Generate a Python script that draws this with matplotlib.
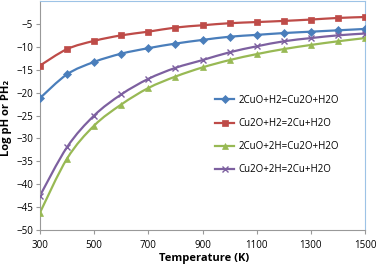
import numpy as np
import matplotlib
matplotlib.use('Agg')
import matplotlib.pyplot as plt
from matplotlib.path import Path
from matplotlib.patches import PathPatch
from matplotlib.lines import Line2D

plt.rcParams['font.family'] = ['Open Sans', 'DejaVu Sans']

# data
temps = [300, 400, 500, 600, 700, 800, 900, 1000, 1100, 1200, 1300, 1400, 1500]
cuo_h2 = [-21.2, -16.0, -13.3, -11.5, -10.3, -9.3, -8.5, -7.8, -7.4, -7.0, -6.7, -6.4, -6.1]
cu2o_h2 = [-14.1, -10.5, -8.7, -7.5, -6.7, -5.8, -5.3, -4.85, -4.6, -4.35, -4.05, -3.7, -3.5]
cuo_2h = [-46.2, -34.4, -27.2, -22.6, -19.0, -16.5, -14.5, -12.9, -11.6, -10.5, -9.6, -8.8, -8.1]
cu2o_2h = [-42.5, -31.9, -25.0, -20.4, -17.0, -14.6, -12.9, -11.2, -9.9, -8.8, -8.1, -7.5, -7.1]

labels = ['2CuO+H2=Cu2O+H2O', 'Cu2O+H2=2Cu+H2O',
          '2CuO+2H=Cu2O+H2O', 'Cu2O+2H=2Cu+H2O']
series = [cuo_h2, cu2o_h2, cuo_2h, cu2o_2h]
colors = ['#4a7ebb', '#be4b48', '#98b954', '#7d60a0']
markers = ['D', 's', '^', 'x']
msizes = [4, 5, 5, 5]


def smooth_path(x, y):
    # Excel-style smoothed line: cubic Bezier segments through the points
    pts = np.column_stack([x, y]).astype(float)
    verts = [pts[0]]
    codes = [Path.MOVETO]
    n = len(pts)
    for i in range(n - 1):
        p0 = pts[max(i - 1, 0)]
        p1 = pts[i]
        p2 = pts[i + 1]
        p3 = pts[min(i + 2, n - 1)]
        verts += [p1 + (p2 - p0) / 6, p2 - (p3 - p1) / 6, p2]
        codes += [Path.CURVE4] * 3
    return Path(verts, codes)


fig = plt.figure(figsize=(3.77, 2.65), dpi=100)
ax = fig.add_axes([40 / 377, 1 - 230 / 265, 325 / 377, 229 / 265])

handles = []
for y, lab, c, m, ms in zip(series, labels, colors, markers, msizes):
    ax.add_patch(PathPatch(smooth_path(temps, y), facecolor='none',
                           edgecolor=c, linewidth=1.6, zorder=2))
    mew = 1.0 if m == 'x' else 0.5
    ax.plot(temps, y, linestyle='none', color=c, marker=m, markersize=ms,
            markeredgewidth=mew, zorder=3)
    handles.append(Line2D([], [], color=c, marker=m, markersize=ms,
                          markeredgewidth=mew, linewidth=1.6, label=lab))

ax.set_xlim(300, 1500)
ax.set_ylim(-50, 0)
ax.set_xticks(range(300, 1501, 200))
ax.set_yticks(range(-50, -4, 5))
ax.tick_params(labelsize=7, length=3, color='#999999', width=0.8, pad=2)
ax.tick_params(axis='x', pad=4)

for s in ['left', 'bottom']:
    ax.spines[s].set_color('#999999')
for s in ['top', 'right']:
    ax.spines[s].set_color('#9dc3e6')

fig.text(204 / 377, 1 - 259 / 265, 'Temperature (K)', fontsize=8,
         fontweight='bold', ha='center', va='center')
fig.text(7 / 377, 1 - 118 / 265, 'Log pH or PH₂', fontsize=8,
         fontweight='bold', ha='center', va='center', rotation=90)

ax.legend(handles=handles, loc='upper left',
          bbox_to_anchor=(210 / 377, 1 - 90 / 265),
          bbox_transform=fig.transFigure, frameon=False, fontsize=7,
          handlelength=2.0, labelspacing=1.25, handletextpad=0.4,
          borderpad=0)

fig.savefig('out.png', dpi=100)
